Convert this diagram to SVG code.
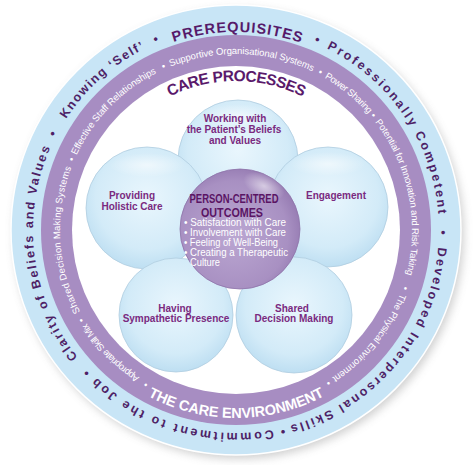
<svg xmlns="http://www.w3.org/2000/svg" xmlns:xlink="http://www.w3.org/1999/xlink" width="474" height="465" viewBox="0 0 474 465">
<defs>
<style>
.ot{font-family:"Liberation Sans",Arial,sans-serif;font-weight:bold;font-size:12.5px;fill:#4e1f66}
.pt{font-family:"Liberation Sans",Arial,sans-serif;font-size:9.5px;fill:#ffffff}
.big{font-family:"Liberation Sans",Arial,sans-serif;font-weight:bold;font-size:15.5px;fill:#5a1a6b}
.lbl{font-family:"Liberation Sans",Arial,sans-serif;font-weight:bold;font-size:10px;fill:#7a2a80;text-anchor:middle}
.ct{font-family:"Liberation Sans",Arial,sans-serif;font-weight:bold;font-size:12.5px;fill:#5a1464;text-anchor:middle}
.bl{font-family:"Liberation Sans",Arial,sans-serif;font-size:11px;fill:#ffffff}
.petal{fill:url(#pg);stroke:#b0cde0;stroke-width:0.8}
</style>
<radialGradient id="pg" cx="50%" cy="42%" r="60%">
<stop offset="0" stop-color="#e9f6fd"/>
<stop offset="0.7" stop-color="#d3ebf8"/>
<stop offset="1" stop-color="#bbddf1"/>
</radialGradient>
<radialGradient id="cg" cx="45%" cy="55%" r="60%">
<stop offset="0" stop-color="#bba7d2"/>
<stop offset="0.75" stop-color="#a890c2"/>
<stop offset="1" stop-color="#9277af"/>
</radialGradient>
<radialGradient id="hl" cx="50%" cy="50%" r="50%">
<stop offset="0" stop-color="#ffffff" stop-opacity="0.55"/>
<stop offset="1" stop-color="#ffffff" stop-opacity="0"/>
</radialGradient>
<filter id="sh" x="-10%" y="-10%" width="120%" height="120%"><feGaussianBlur stdDeviation="4"/></filter>
<path id="po" d="M236,27 A203,203 0 1 1 236,433 A203,203 0 1 1 236,27 A203,203 0 1 1 236,433 A203,203 0 1 1 236,27"/>
<path id="pp" d="M236,32 A198,198 0 1 1 236,428 A198,198 0 1 1 236,32 A198,198 0 1 1 236,428 A198,198 0 1 1 236,32"/>
<path id="pm" d="M236,54 A176,176 0 1 1 236,406 A176,176 0 1 1 236,54 A176,176 0 1 1 236,406 A176,176 0 1 1 236,54"/>
<path id="pc" d="M236,81 A149,149 0 1 1 236,379 A149,149 0 1 1 236,81 A149,149 0 1 1 236,379 A149,149 0 1 1 236,81"/>
<path id="pe" d="M73.2,324 A188,188 0 0 0 398.8,324"/>
</defs>
<rect width="474" height="465" fill="#ffffff"/>
<g id="prerequisites-ring">
<circle cx="239" cy="234" r="225" fill="#9a9a9a" opacity="0.45" filter="url(#sh)"/>
<circle cx="236" cy="230" r="225" fill="#c8e5f6" stroke="#ffffff" stroke-width="1.5"/>
<text class="ot"><textPath xlink:href="#po" startOffset="1073.5" textLength="106.3" lengthAdjust="spacing">Knowing ‘Self’</textPath></text>
<text class="ot" text-anchor="middle"><textPath xlink:href="#po" startOffset="1194">•</textPath></text>
<text class="ot" style="font-size:14.5px;fill:#561a6a"><textPath xlink:href="#pp" startOffset="1180.2" textLength="129.6" lengthAdjust="spacing">PREREQUISITES</textPath></text>
<text class="ot" text-anchor="middle"><textPath xlink:href="#po" startOffset="1357">•</textPath></text>
<text class="ot"><textPath xlink:href="#po" startOffset="1369" textLength="208.7" lengthAdjust="spacing">Professionally Competent</textPath></text>
<text class="ot" text-anchor="middle"><textPath xlink:href="#po" startOffset="1596.1">•</textPath></text>
<text class="ot"><textPath xlink:href="#po" startOffset="1611" textLength="246.6" lengthAdjust="spacing">Developed Interpersonal Skills</textPath></text>
<text class="ot" text-anchor="middle"><textPath xlink:href="#po" startOffset="1865.8">•</textPath></text>
<text class="ot"><textPath xlink:href="#po" startOffset="1875.3" textLength="190.6" lengthAdjust="spacing">Commitment to the Job</textPath></text>
<text class="ot" text-anchor="middle"><textPath xlink:href="#po" startOffset="2076.2">•</textPath></text>
<text class="ot"><textPath xlink:href="#po" startOffset="2093.9" textLength="221.8" lengthAdjust="spacing">Clarity of Beliefs and Values</textPath></text>
<text class="ot" text-anchor="middle"><textPath xlink:href="#po" startOffset="2329.5">•</textPath></text>
</g>
<g id="care-environment-ring">
<circle cx="236" cy="230" r="195" fill="#a78dc2"/>
<circle cx="236" cy="230" r="164" fill="#ffffff"/>
<text class="pt"><textPath xlink:href="#pm" startOffset="906.2" textLength="116.7" lengthAdjust="spacing">Effective Staff Relationships</textPath></text>
<text class="pt" text-anchor="middle"><textPath xlink:href="#pm" startOffset="1032.1">•</textPath></text>
<text class="pt"><textPath xlink:href="#pm" startOffset="1038.3" textLength="146.2" lengthAdjust="spacing">Supportive Organisational Systems</textPath></text>
<text class="pt" text-anchor="middle"><textPath xlink:href="#pm" startOffset="1191.9">•</textPath></text>
<text class="pt"><textPath xlink:href="#pm" startOffset="1198" textLength="57.1" lengthAdjust="spacing">Power Sharing</textPath></text>
<text class="pt" text-anchor="middle"><textPath xlink:href="#pm" startOffset="1259.4">•</textPath></text>
<text class="pt"><textPath xlink:href="#pm" startOffset="1265.6" textLength="161.3" lengthAdjust="spacing">Potential for Innovation and Risk Taking</textPath></text>
<text class="pt" text-anchor="middle"><textPath xlink:href="#pm" startOffset="1440.1">•</textPath></text>
<text class="pt"><textPath xlink:href="#pm" startOffset="1446.8" textLength="109.7" lengthAdjust="spacing">The Physical Environment</textPath></text>
<text class="pt" text-anchor="middle"><textPath xlink:href="#pm" startOffset="1562.6">•</textPath></text>
<text class="pt" text-anchor="middle"><textPath xlink:href="#pm" startOffset="1750.9">•</textPath></text>
<text class="pt"><textPath xlink:href="#pm" startOffset="1760.1" textLength="76.2" lengthAdjust="spacing">Appropriate Skill Mix</textPath></text>
<text class="pt" text-anchor="middle"><textPath xlink:href="#pm" startOffset="1841.5">•</textPath></text>
<text class="pt"><textPath xlink:href="#pm" startOffset="1849.2" textLength="149" lengthAdjust="spacing">Shared Decision Making Systems</textPath></text>
<text class="pt" text-anchor="middle"><textPath xlink:href="#pm" startOffset="2005.9">•</textPath></text>
<text class="big" style="fill:#ffffff;font-size:14.5px" text-anchor="middle"><textPath xlink:href="#pe" startOffset="196.9" textLength="184" lengthAdjust="spacing">THE CARE ENVIRONMENT</textPath></text>
</g>
<g id="care-processes-title">
<text class="big"><textPath xlink:href="#pc" startOffset="867.3" textLength="137.8" lengthAdjust="spacing">CARE PROCESSES</textPath></text>
</g>
<g id="petal-beliefs">
<circle class="petal" cx="238" cy="160" r="60"/>
<ellipse cx="238" cy="116" rx="38" ry="12" fill="url(#hl)"/>
<text class="lbl" x="235" y="122">Working with</text>
<text class="lbl" x="234" y="133">the Patient’s Beliefs</text>
<text class="lbl" x="235" y="144">and Values</text>
</g>
<g id="petal-holistic">
<circle class="petal" cx="147" cy="208" r="61"/>
<ellipse cx="147" cy="165" rx="38" ry="12" fill="url(#hl)"/>
<text class="lbl" x="132" y="199">Providing</text>
<text class="lbl" x="132" y="210">Holistic Care</text>
</g>
<g id="petal-engagement">
<circle class="petal" cx="328" cy="207" r="60"/>
<ellipse cx="328" cy="164" rx="38" ry="12" fill="url(#hl)"/>
<text class="lbl" x="336" y="199">Engagement</text>
</g>
<g id="petal-sympathetic">
<circle class="petal" cx="176" cy="315" r="57"/>
<text class="lbl" x="175" y="312">Having</text>
<text class="lbl" x="176" y="322">Sympathetic Presence</text>
</g>
<g id="petal-shared">
<circle class="petal" cx="294" cy="315" r="58"/>
<text class="lbl" x="292" y="312">Shared</text>
<text class="lbl" x="294" y="322">Decision Making</text>
</g>
<g id="person-centred-outcomes">
<circle cx="240" cy="229" r="60" fill="url(#cg)" stroke="#8e74aa" stroke-width="0.8"/>
<ellipse cx="264" cy="186" rx="22" ry="12" transform="rotate(25 264 186)" fill="url(#hl)"/>
<text class="ct" x="234" y="203" textLength="89" lengthAdjust="spacingAndGlyphs">PERSON-CENTRED</text>
<text class="ct" x="232" y="217" textLength="62" lengthAdjust="spacingAndGlyphs">OUTCOMES</text>
<text class="bl" x="184" y="226" textLength="102" lengthAdjust="spacingAndGlyphs">• Satisfaction with Care</text>
<text class="bl" x="184" y="236" textLength="102" lengthAdjust="spacingAndGlyphs">• Involvement with Care</text>
<text class="bl" x="184" y="246" textLength="94" lengthAdjust="spacingAndGlyphs">• Feeling of Well-Being</text>
<text class="bl" x="184" y="256" textLength="104" lengthAdjust="spacingAndGlyphs">• Creating a Therapeutic</text>
<text class="bl" x="190" y="266" textLength="30" lengthAdjust="spacingAndGlyphs">Culture</text>
</g>
</svg>
